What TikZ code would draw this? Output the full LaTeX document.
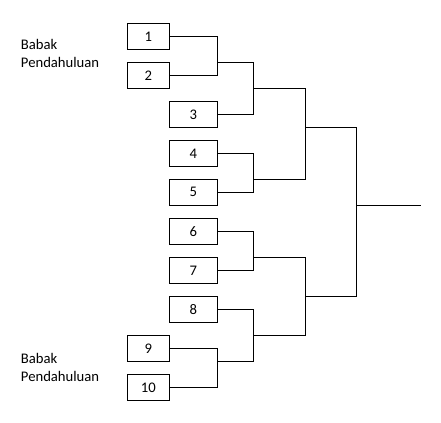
\documentclass[tikz,border=0pt]{standalone}
\usepackage{fontspec}
\setmainfont{Carlito}
\usepackage{tikz}
\usetikzlibrary{calc,positioning}
\tikzset{%
	team/.style      = {draw, rectangle, line width=0.75pt, inner sep=0pt, minimum height=19.5pt, text centered, font=\fontsize{11}{13}\selectfont},
	shortteam/.style = {team, minimum width=31.5pt},
	longteam/.style  = {team, minimum width=36pt},
	bracket/.style   = {line width=0.75pt},
	prelim/.style    = {anchor=base west, inner sep=0pt, font=\fontsize{11}{13}\selectfont},
}
\begin{document}
\begin{tikzpicture}[x=0.75pt,y=-0.75pt]
	\useasboundingbox (0,0) rectangle (441,423);
	% teams
	\node[shortteam] (b1) at (148.3,36.3) {1};
	\node[shortteam] (b2) at (148.3,75.3) {2};
	\node[longteam] (b3) at (193.3,114.3) {3};
	\node[longteam] (b4) at (193.3,153.3) {4};
	\node[longteam] (b5) at (193.3,192.3) {5};
	\node[longteam] (b6) at (193.3,231.3) {6};
	\node[longteam] (b7) at (193.3,270.3) {7};
	\node[longteam] (b8) at (193.3,309.3) {8};
	\node[shortteam] (b9) at (148.3,348.3) {9};
	\node[shortteam] (b10) at (148.3,387.3) {10};
	
	\node[prelim] (babakA) at (20.7,50) {Babak};
	\node[prelim] (pendA) at (20.7,68) {Pendahuluan};
	\node[prelim] (babakB) at (20.7,363.3) {Babak};
	\node[prelim] (pendB) at (20.7,381.3) {Pendahuluan};
	
	% junctions
	\coordinate (j12) at (217.3,62.3);
	\coordinate (j123) at (253.3,88.3);
	\coordinate (j45) at (253.3,179.3);
	\coordinate (j67) at (253.3,257.3);
	\coordinate (j910) at (217.3,361.3);
	\coordinate (j8) at (253.3,335.3);
	\coordinate (jA) at (305.7,127.3);
	\coordinate (jB) at (305.7,296.3);
	\coordinate (jF) at (356,205.3);
	\coordinate (win) at (420.7,205.3);
	
	\draw[bracket] (b1.east) -| (j12);
	\draw[bracket] (b2.east) -| (j12);
	\draw[bracket] (j12) -| (j123);
	\draw[bracket] (b3.east) -| (j123);
	\draw[bracket] (b4.east) -| (j45);
	\draw[bracket] (b5.east) -| (j45);
	\draw[bracket] (j123) -| (jA);
	\draw[bracket] (j45) -| (jA);
	
	\draw[bracket] (b6.east) -| (j67);
	\draw[bracket] (b7.east) -| (j67);
	\draw[bracket] (b9.east) -| (j910);
	\draw[bracket] (b10.east) -| (j910);
	\draw[bracket] (b8.east) -| (j8);
	\draw[bracket] (j910) -| (j8);
	\draw[bracket] (j67) -| (jB);
	\draw[bracket] (j8) -| (jB);
	
	\draw[bracket] (jA) -| (jF);
	\draw[bracket] (jB) -| (jF);
	\draw[bracket] (jF) -- (win);
\end{tikzpicture}
\end{document}
